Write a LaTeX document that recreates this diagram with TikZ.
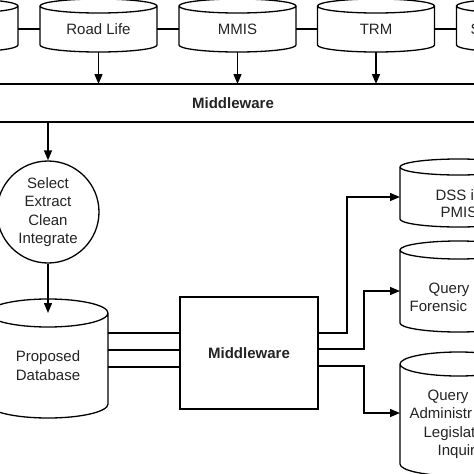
\documentclass[tikz,border=0pt]{standalone}
\usepackage{fontspec}
\setmainfont{Liberation Sans}
\usetikzlibrary{arrows.meta,calc}
\definecolor{txt}{RGB}{35,35,35}
\newcommand\cylout[2]{%
  \draw[cylline] let \p1=(#1.north west), \p2=(#1.north east), \p3=(#1.south west), \n1={(\x2-\x1)/2} in
    (\x1,\y1+#2pt) -- (\x3,\y3) arc[start angle=180,end angle=360,x radius={\n1*1pt},y radius=#2pt] -- (\x2,\y1+#2pt)
    ({(\x1+\x2)/2},\y1+#2pt) ellipse[x radius={\n1*1pt},y radius=#2pt];}
\begin{document}
\begin{tikzpicture}[x=1pt,y=-1pt, line width=1.3pt,
  font=\fontsize{15}{18.5}\selectfont,
  cylbody/.style={inner sep=0pt, outer sep=0pt, text=txt},
  topcyl/.style={cylbody, minimum width=117pt, minimum height=32pt},
  cylline/.style={draw=black, line width=1.3pt},
  arr/.style={-{Triangle[length=10pt,width=8pt]}},
  lbl/.style={anchor=base west, inner sep=0pt, text=txt},
  box/.style={draw, line width=1.3pt, inner sep=0pt, outer sep=0pt, font=\fontsize{15}{18.5}\selectfont\bfseries, text=txt}]
\useasboundingbox (0,0) rectangle (474,474);
\clip (0,0) rectangle (474,474);
% top databases
\node[topcyl] (c0) at (-40.5,29) {};
\node[topcyl] (c1) at (98.5,29) {Road Life};
\node[topcyl] (c2) at (237.5,29) {MMIS};
\node[topcyl] (c3) at (376,29) {TRM};
\node[topcyl] (c4) at (515,29) {};
\node[lbl, anchor=west] (c4t) at (470,29) {S};
\cylout{c0}{7}
\cylout{c1}{7}
\cylout{c2}{7}
\cylout{c3}{7}
\cylout{c4}{7}
\draw (c0.east) -- (c1.west);
\draw (c1.east) -- (c2.west);
\draw (c2.east) -- (c3.west);
\draw (c3.east) -- (c4.west);
% middleware bar
\node[box, minimum width=506pt, minimum height=38pt] (bar) at (233,103) {Middleware};
\draw[arr] ([yshift=-7pt]c1.south) -- (c1.south |- bar.north);
\draw[arr] ([yshift=-7pt]c2.south) -- (c2.south |- bar.north);
\draw[arr] ([yshift=-7pt]c3.south) -- (c3.south |- bar.north);
% select circle
\node[draw, circle, minimum size=102pt, inner sep=0pt, align=center, text=txt] (sel) at (48,212) {Select\\Extract\\Clean\\Integrate};
\draw[arr] (sel.north |- bar.south) -- (sel.north);
% proposed database
\node[cylbody, minimum width=120pt, minimum height=77pt, align=center] (pdb) at (48,365.5) {Proposed\\Database};
\cylout{pdb}{14}
\draw[arr] (sel.south) -- ([yshift=14pt]pdb.north);
% middleware box
\node[box, minimum width=138pt, minimum height=112pt] (mw) at (249,353) {Middleware};
\draw (pdb.east |- 0,333) -- (mw.west |- 0,333);
\draw (pdb.east |- 0,350) -- (mw.west |- 0,350);
\draw (pdb.east |- 0,367) -- (mw.west |- 0,367);
% right databases
\node[cylbody, minimum width=117pt, minimum height=44pt] (dss) at (458.5,197) {};
\cylout{dss}{8}
\node[cylbody, minimum width=117pt, minimum height=64pt] (qf) at (458.5,291) {};
\cylout{qf}{9}
\node[cylbody, minimum width=117pt, minimum height=88pt] (qa) at (458.5,420) {};
\cylout{qa}{12}
\node[lbl] (dss1) at (435,200) {DSS i};
\node[lbl] (dss2) at (440,217.5) {PMIS};
\node[lbl] (qf1) at (428,293.5) {Query};
\node[lbl] (qf2) at (409,311.5) {Forensic};
\node[lbl] (qa1) at (427,400) {Query};
\node[lbl] (qa2) at (409,418.5) {Administr};
\node[lbl] (qa3) at (423,437) {Legislat};
\node[lbl] (qa4) at (437,455.5) {Inquir};
\draw[arr] (mw.east |- 0,333) -- ++(29,0) |- (dss.west);
\draw[arr] (mw.east |- 0,349) -- ++(46,0) |- (qf.west);
\draw[arr] (mw.east |- 0,366) -- ++(46,0) |- (qa.west |- 0,413);
\end{tikzpicture}
\end{document}
